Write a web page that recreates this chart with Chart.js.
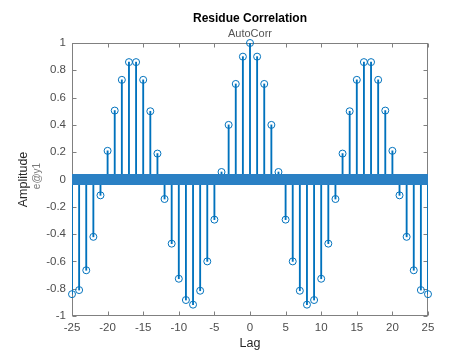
<!DOCTYPE html>
<html><head><meta charset="utf-8">
<script src="https://cdn.jsdelivr.net/npm/chart.js@4"></script>
<style>html,body{margin:0;padding:0;background:#fff}</style>
</head><body>
<canvas id="c" width="474" height="355"></canvas>
<script>
const lags = [-25,-24,-23,-22,-21,-20,-19,-18,-17,-16,-15,-14,-13,-12,-11,-10,-9,-8,-7,-6,-5,-4,-3,-2,-1,0,
  1,2,3,4,5,6,7,8,9,10,11,12,13,14,15,16,17,18,19,20,21,22,23,24,25];
const autoCorr = [-0.84,-0.81,-0.665,-0.42,-0.116,0.21,0.505,0.73,0.86,0.86,0.73,0.50,0.19,-0.143,-0.47,-0.727,-0.883,-0.917,-0.815,-0.60,-0.294,0.055,0.40,0.70,0.90,1.0,
  0.90,0.70,0.40,0.055,-0.294,-0.60,-0.815,-0.917,-0.883,-0.727,-0.47,-0.143,0.19,0.50,0.73,0.86,0.86,0.73,0.505,0.21,-0.116,-0.42,-0.665,-0.81,-0.84];
const confUpper = 0.04;
const confLower = -0.04;
const xRange = [-25, 25];
const yRange = [-1, 1];

const FONT = '"Liberation Sans", Arial, Helvetica, sans-serif';
const STEM = '#0072BD';
const BAND = '#2a80c4';
const AXIS = '#808080';
const TICKTXT = '#4d4d4d';

const points = lags.map((l,i)=>({x:l, y:autoCorr[i]}));

const boxPlugin = {
  id: 'box',
  beforeDatasetsDraw(chart){
    const {ctx, chartArea:a, scales:{x, y}} = chart;
    ctx.save();
    ctx.strokeStyle = AXIS; ctx.lineWidth = 1;
    const l = Math.round(a.left)+0.5, t = Math.round(a.top)+0.5, r = Math.round(a.right)-0.5, b = Math.round(a.bottom)-0.5;
    ctx.strokeRect(l, t, r-l, b-t);
    const L = 4;
    ctx.beginPath();
    x.ticks.forEach(tk=>{
      const px = Math.round(x.getPixelForValue(tk.value))+0.5;
      ctx.moveTo(px, b); ctx.lineTo(px, b-L);
      ctx.moveTo(px, t); ctx.lineTo(px, t+L);
    });
    y.ticks.forEach(tk=>{
      const py = Math.round(y.getPixelForValue(tk.value))+0.5;
      ctx.moveTo(l, py); ctx.lineTo(l+L, py);
      ctx.moveTo(r, py); ctx.lineTo(r-L, py);
    });
    ctx.stroke();
    ctx.restore();
  },
  afterDraw(chart){
    const {ctx} = chart;
    ctx.save();
    ctx.translate(37, 176);
    ctx.rotate(-Math.PI/2);
    ctx.fillStyle = '#7a7a7a';
    ctx.font = '10px ' + FONT;
    ctx.textAlign = 'center';
    ctx.textBaseline = 'middle';
    ctx.fillText('e@y1', 0, 0);
    ctx.restore();
  }
};

new Chart(document.getElementById('c'), {
  type: 'scatter',
  data: {
    datasets: [
      {
        type: 'line',
        data: [{x:xRange[0], y:confUpper},{x:xRange[1], y:confUpper}],
        borderWidth: 0,
        borderColor: BAND,
        backgroundColor: BAND,
        pointRadius: 0,
        fill: {value: confLower},
        order: 0
      },
      {
        type: 'scatter',
        data: points,
        pointStyle: 'circle',
        pointRadius: 3.5,
        pointBorderWidth: 1,
        borderColor: STEM,
        backgroundColor: 'rgba(0,0,0,0)',
        showLine: false,
        clip: false,
        order: 1
      },
      {
        type: 'bar',
        data: points,
        backgroundColor: STEM,
        borderWidth: 0,
        barThickness: 1.2,
        order: 2
      }
    ]
  },
  options: {
    responsive: false,
    animation: false,
    devicePixelRatio: 1,
    layout: {padding: {left: 0, right: 46, top: 0, bottom: 0}},
    plugins: {
      legend: {display: false},
      tooltip: {enabled: false},
      title: {
        display: true, text: 'Residue Correlation', fullSize: false,
        color: '#000', font: {family: FONT, size: 12, weight: 'bold'},
        padding: {top: 11, bottom: 2}
      },
      subtitle: {
        display: true, text: 'AutoCorr', fullSize: false,
        color: '#555', font: {family: FONT, size: 11, weight: 'normal'},
        padding: {top: 0, bottom: 2.4}
      }
    },
    scales: {
      x: {
        type: 'linear', min: xRange[0], max: xRange[1], offset: false,
        grid: {display: false, drawTicks: false},
        border: {display: false},
        ticks: {stepSize: 5, color: TICKTXT, font: {family: FONT, size: 11.5}, padding: 5, maxRotation: 0, autoSkip: false},
        title: {display: true, text: 'Lag', color: '#262626', font: {family: FONT, size: 12.5}, padding: {top: 0, bottom: 4}},
        afterFit(s){ s.height = 39; }
      },
      y: {
        type: 'linear', min: yRange[0], max: yRange[1],
        grid: {display: false, drawTicks: false},
        border: {display: false},
        ticks: {stepSize: 0.2, color: TICKTXT, font: {family: FONT, size: 11.5}, padding: 6,
          callback: v => String(Math.round(v*10)/10)},
        title: {display: true, text: 'Amplitude', color: '#262626', font: {family: FONT, size: 12.5}, padding: {top: 16, bottom: 0}},
        afterFit(s){ s.width = 72; }
      }
    }
  },
  plugins: [boxPlugin]
});
</script>
</body></html>
